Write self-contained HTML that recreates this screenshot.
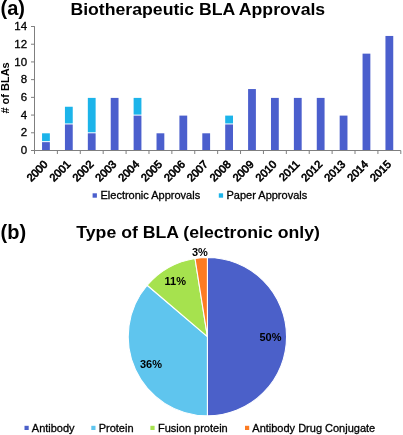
<!DOCTYPE html>
<html><head><meta charset="utf-8"><style>
html,body{margin:0;padding:0;background:#fff;}
body{width:403px;height:435px;overflow:hidden;position:relative;}
svg{position:absolute;left:0;top:0;}
text{font-family:"Liberation Sans",Arial,sans-serif;fill:#000;}
.yt{font-size:11.5px;stroke:#000;stroke-width:0.3px;}
.yl{font-size:11px;font-weight:bold;}
.xt{font-size:11px;stroke:#000;stroke-width:0.65px;}
.ttl{font-size:17px;font-weight:bold;}
.lab{font-size:20px;font-weight:bold;}
.lg{font-size:11px;stroke:#000;stroke-width:0.3px;}
.pl{font-size:11px;font-weight:bold;}
</style></head><body>
<svg width="403" height="435" viewBox="0 0 403 435">
<text x="0.5" y="14.9" class="lab">(a)</text>
<text x="70.4" y="14.9" class="ttl" textLength="254.8" lengthAdjust="spacingAndGlyphs">Biotherapeutic BLA Approvals</text>
<text x="0" y="0" class="yl" transform="translate(8.6 113.6) rotate(-90)"># of BLAs</text>
<text x="27.1" y="154.20" text-anchor="end" class="yt">0</text>
<text x="27.1" y="136.49" text-anchor="end" class="yt">2</text>
<text x="27.1" y="118.77" text-anchor="end" class="yt">4</text>
<text x="27.1" y="101.06" text-anchor="end" class="yt">6</text>
<text x="27.1" y="83.34" text-anchor="end" class="yt">8</text>
<text x="27.1" y="65.63" text-anchor="end" class="yt">10</text>
<text x="27.1" y="47.92" text-anchor="end" class="yt">12</text>
<text x="27.1" y="30.20" text-anchor="end" class="yt">14</text>
<rect x="42.05" y="142.15" width="7.8" height="8.85" fill="#4b5fcd"/>
<rect x="42.05" y="133.30" width="7.8" height="7.85" fill="#1cb4ea"/>
<text x="48.45" y="165" text-anchor="end" transform="rotate(-45 48.45 165)" class="xt">2000</text>
<rect x="64.94" y="124.45" width="7.8" height="26.55" fill="#4b5fcd"/>
<rect x="64.94" y="106.75" width="7.8" height="16.70" fill="#1cb4ea"/>
<text x="71.34" y="165" text-anchor="end" transform="rotate(-45 71.34 165)" class="xt">2001</text>
<rect x="87.83" y="133.30" width="7.8" height="17.70" fill="#4b5fcd"/>
<rect x="87.83" y="97.90" width="7.8" height="34.40" fill="#1cb4ea"/>
<text x="94.23" y="165" text-anchor="end" transform="rotate(-45 94.23 165)" class="xt">2002</text>
<rect x="110.73" y="97.90" width="7.8" height="53.10" fill="#4b5fcd"/>
<text x="117.13" y="165" text-anchor="end" transform="rotate(-45 117.13 165)" class="xt">2003</text>
<rect x="133.62" y="115.60" width="7.8" height="35.40" fill="#4b5fcd"/>
<rect x="133.62" y="97.90" width="7.8" height="16.70" fill="#1cb4ea"/>
<text x="140.02" y="165" text-anchor="end" transform="rotate(-45 140.02 165)" class="xt">2004</text>
<rect x="156.52" y="133.30" width="7.8" height="17.70" fill="#4b5fcd"/>
<text x="162.92" y="165" text-anchor="end" transform="rotate(-45 162.92 165)" class="xt">2005</text>
<rect x="179.41" y="115.60" width="7.8" height="35.40" fill="#4b5fcd"/>
<text x="185.81" y="165" text-anchor="end" transform="rotate(-45 185.81 165)" class="xt">2006</text>
<rect x="202.30" y="133.30" width="7.8" height="17.70" fill="#4b5fcd"/>
<text x="208.70" y="165" text-anchor="end" transform="rotate(-45 208.70 165)" class="xt">2007</text>
<rect x="225.20" y="124.45" width="7.8" height="26.55" fill="#4b5fcd"/>
<rect x="225.20" y="115.60" width="7.8" height="7.85" fill="#1cb4ea"/>
<text x="231.60" y="165" text-anchor="end" transform="rotate(-45 231.60 165)" class="xt">2008</text>
<rect x="248.09" y="89.05" width="7.8" height="61.95" fill="#4b5fcd"/>
<text x="254.49" y="165" text-anchor="end" transform="rotate(-45 254.49 165)" class="xt">2009</text>
<rect x="270.98" y="97.90" width="7.8" height="53.10" fill="#4b5fcd"/>
<text x="277.38" y="165" text-anchor="end" transform="rotate(-45 277.38 165)" class="xt">2010</text>
<rect x="293.88" y="97.90" width="7.8" height="53.10" fill="#4b5fcd"/>
<text x="300.28" y="165" text-anchor="end" transform="rotate(-45 300.28 165)" class="xt">2011</text>
<rect x="316.77" y="97.90" width="7.8" height="53.10" fill="#4b5fcd"/>
<text x="323.17" y="165" text-anchor="end" transform="rotate(-45 323.17 165)" class="xt">2012</text>
<rect x="339.67" y="115.60" width="7.8" height="35.40" fill="#4b5fcd"/>
<text x="346.07" y="165" text-anchor="end" transform="rotate(-45 346.07 165)" class="xt">2013</text>
<rect x="362.56" y="53.65" width="7.8" height="97.35" fill="#4b5fcd"/>
<text x="368.96" y="165" text-anchor="end" transform="rotate(-45 368.96 165)" class="xt">2014</text>
<rect x="385.45" y="35.95" width="7.8" height="115.05" fill="#4b5fcd"/>
<text x="391.85" y="165" text-anchor="end" transform="rotate(-45 391.85 165)" class="xt">2015</text>
<line x1="34.5" y1="26.20" x2="34.5" y2="154.0" stroke="#7f7f7f" stroke-width="1"/>
<line x1="31.0" y1="150.50" x2="34.5" y2="150.50" stroke="#7f7f7f" stroke-width="1"/>
<line x1="31.0" y1="132.79" x2="34.5" y2="132.79" stroke="#7f7f7f" stroke-width="1"/>
<line x1="31.0" y1="115.07" x2="34.5" y2="115.07" stroke="#7f7f7f" stroke-width="1"/>
<line x1="31.0" y1="97.36" x2="34.5" y2="97.36" stroke="#7f7f7f" stroke-width="1"/>
<line x1="31.0" y1="79.64" x2="34.5" y2="79.64" stroke="#7f7f7f" stroke-width="1"/>
<line x1="31.0" y1="61.93" x2="34.5" y2="61.93" stroke="#7f7f7f" stroke-width="1"/>
<line x1="31.0" y1="44.22" x2="34.5" y2="44.22" stroke="#7f7f7f" stroke-width="1"/>
<line x1="31.0" y1="26.50" x2="34.5" y2="26.50" stroke="#7f7f7f" stroke-width="1"/>
<line x1="34.5" y1="150.5" x2="400.8" y2="150.5" stroke="#7f7f7f" stroke-width="1"/>
<line x1="34.50" y1="150.5" x2="34.50" y2="154.0" stroke="#7f7f7f" stroke-width="1"/>
<line x1="57.39" y1="150.5" x2="57.39" y2="154.0" stroke="#7f7f7f" stroke-width="1"/>
<line x1="80.29" y1="150.5" x2="80.29" y2="154.0" stroke="#7f7f7f" stroke-width="1"/>
<line x1="103.18" y1="150.5" x2="103.18" y2="154.0" stroke="#7f7f7f" stroke-width="1"/>
<line x1="126.08" y1="150.5" x2="126.08" y2="154.0" stroke="#7f7f7f" stroke-width="1"/>
<line x1="148.97" y1="150.5" x2="148.97" y2="154.0" stroke="#7f7f7f" stroke-width="1"/>
<line x1="171.86" y1="150.5" x2="171.86" y2="154.0" stroke="#7f7f7f" stroke-width="1"/>
<line x1="194.76" y1="150.5" x2="194.76" y2="154.0" stroke="#7f7f7f" stroke-width="1"/>
<line x1="217.65" y1="150.5" x2="217.65" y2="154.0" stroke="#7f7f7f" stroke-width="1"/>
<line x1="240.54" y1="150.5" x2="240.54" y2="154.0" stroke="#7f7f7f" stroke-width="1"/>
<line x1="263.44" y1="150.5" x2="263.44" y2="154.0" stroke="#7f7f7f" stroke-width="1"/>
<line x1="286.33" y1="150.5" x2="286.33" y2="154.0" stroke="#7f7f7f" stroke-width="1"/>
<line x1="309.23" y1="150.5" x2="309.23" y2="154.0" stroke="#7f7f7f" stroke-width="1"/>
<line x1="332.12" y1="150.5" x2="332.12" y2="154.0" stroke="#7f7f7f" stroke-width="1"/>
<line x1="355.01" y1="150.5" x2="355.01" y2="154.0" stroke="#7f7f7f" stroke-width="1"/>
<line x1="377.91" y1="150.5" x2="377.91" y2="154.0" stroke="#7f7f7f" stroke-width="1"/>
<line x1="400.80" y1="150.5" x2="400.80" y2="154.0" stroke="#7f7f7f" stroke-width="1"/>
<path d="M207.4,336.7 L207.40,257.50 A79.2,79.2 0 0 1 207.40,415.90 Z" fill="#4b60c9" stroke="#fff" stroke-width="1.1" stroke-linejoin="round"/>
<path d="M207.4,336.7 L207.40,415.90 A79.2,79.2 0 0 1 147.18,285.26 Z" fill="#5fc5ee" stroke="#fff" stroke-width="1.1" stroke-linejoin="round"/>
<path d="M207.4,336.7 L147.18,285.26 A79.2,79.2 0 0 1 195.01,258.48 Z" fill="#a6e24e" stroke="#fff" stroke-width="1.1" stroke-linejoin="round"/>
<path d="M207.4,336.7 L195.01,258.48 A79.2,79.2 0 0 1 207.40,257.50 Z" fill="#fc7b22" stroke="#fff" stroke-width="1.1" stroke-linejoin="round"/>
<rect x="92.6" y="193.3" width="4.3" height="4.4" fill="#4b5fcd"/>
<text x="100.5" y="199" class="lg">Electronic Approvals</text>
<rect x="218.8" y="193.3" width="4.3" height="4.4" fill="#1cb4ea"/>
<text x="226.5" y="199" class="lg">Paper Approvals</text>
<text x="0.5" y="239" class="lab">(b)</text>
<text x="76.3" y="238.2" class="ttl" textLength="243.6" lengthAdjust="spacingAndGlyphs">Type of BLA (electronic only)</text>
<text x="192" y="255.8" class="pl">3%</text>
<text x="164.5" y="285" class="pl">11%</text>
<text x="259.5" y="340.9" class="pl">50%</text>
<text x="140" y="368" class="pl">36%</text>
<rect x="24.5" y="425.8" width="4.2" height="4.2" fill="#4b60c9"/>
<text x="31.8" y="431.5" class="lg">Antibody</text>
<rect x="91.3" y="425.8" width="4.2" height="4.2" fill="#5fc5ee"/>
<text x="98.7" y="431.5" class="lg">Protein</text>
<rect x="150.4" y="425.8" width="4.2" height="4.2" fill="#a6e24e"/>
<text x="158" y="431.5" class="lg">Fusion protein</text>
<rect x="245" y="425.8" width="4.2" height="4.2" fill="#fc7b22"/>
<text x="252.3" y="431.5" class="lg">Antibody Drug Conjugate</text>
</svg>
</body></html>
